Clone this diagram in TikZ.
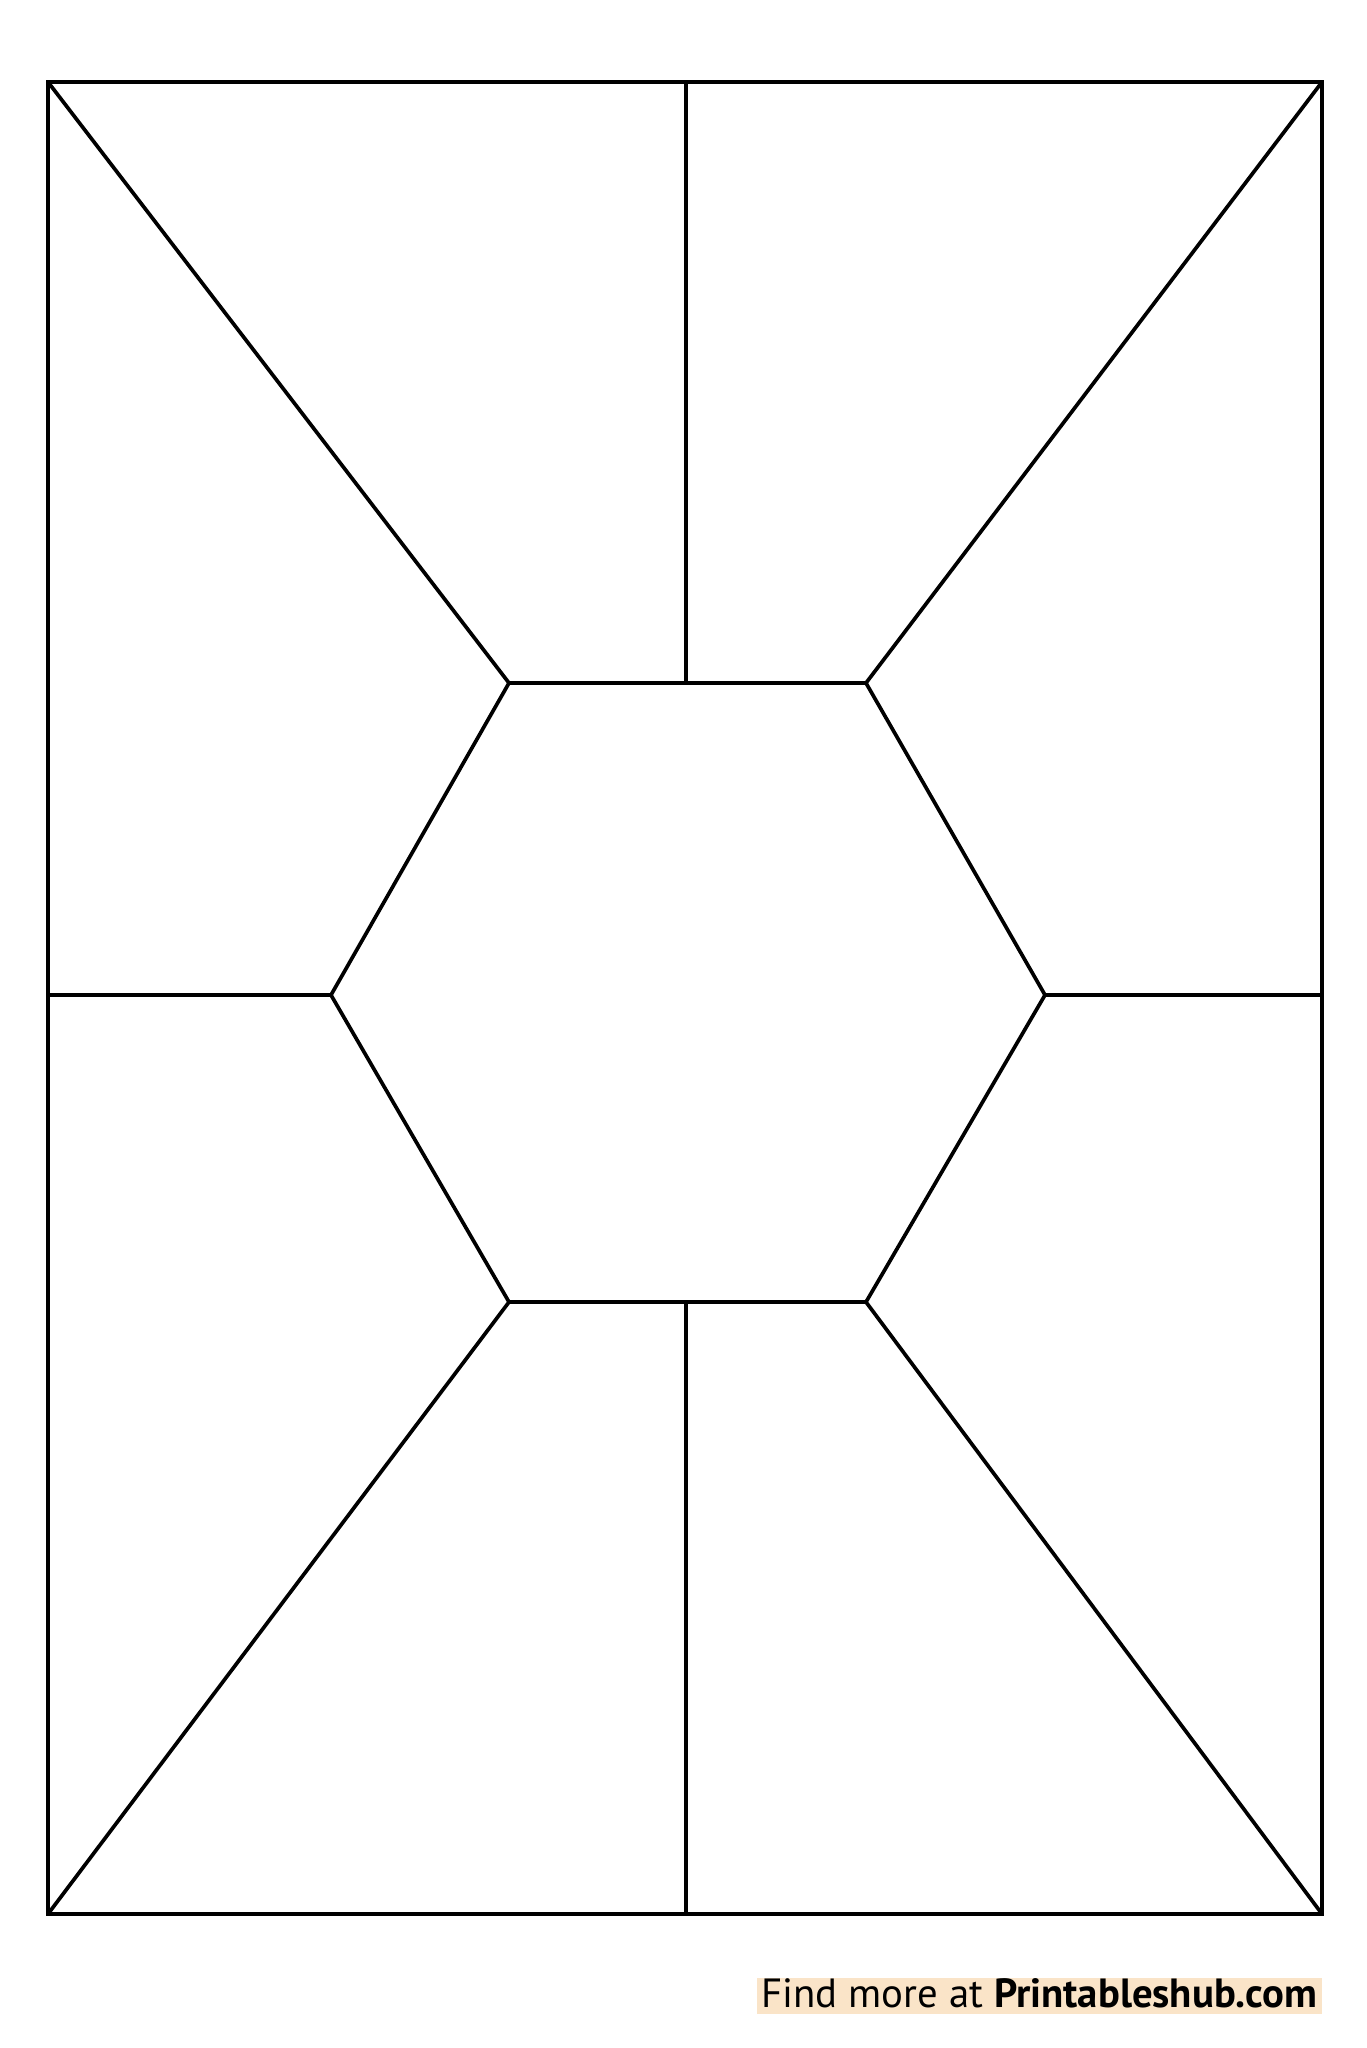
\documentclass[tikz,border=0pt]{standalone}
\usepackage{fontspec}
\setmainfont{PT Sans}
\definecolor{peach}{RGB}{250,228,200}

\begin{document}
\begin{tikzpicture}[x=0.02cm, y=-0.02cm, line width=2.1pt, line join=miter,
    footer/.style={fill=peach, inner xsep=0.1cm, inner ysep=0pt, text height=0.58cm, text depth=0.14cm, font=\fontsize{23.2}{26}\selectfont}]
    \useasboundingbox (0,0) rectangle (1366,2048);
    % outer frame
    \coordinate (tl) at (48,82);
    \coordinate (tr) at (1322,82);
    \coordinate (bl) at (48,1914);
    \coordinate (br) at (1322,1914);
    \coordinate (tm) at (686,82);
    \coordinate (bm) at (686,1914);
    \coordinate (lm) at (48,995);
    \coordinate (rm) at (1322,995);
    % hexagon
    \coordinate (h1) at (509,683);
    \coordinate (h2) at (866,683);
    \coordinate (h3) at (1045,995);
    \coordinate (h4) at (866,1302);
    \coordinate (h5) at (509,1302);
    \coordinate (h6) at (331,995);
    \coordinate (ht) at (686,683);
    \coordinate (hb) at (686,1302);
    \draw (tl) rectangle (br);
    \draw (h1) -- (h2) -- (h3) -- (h4) -- (h5) -- (h6) -- cycle;
    \draw (tl) -- (h1);
    \draw (tr) -- (h2);
    \draw (br) -- (h4);
    \draw (bl) -- (h5);
    \draw (tm) -- (ht);
    \draw (hb) -- (bm);
    \draw (lm) -- (h6);
    \draw (h3) -- (rm);
    % footer
    \node[footer, anchor=base east] (credit) at (1324,2007) {Find more at \textbf{Printableshub.com}};
\end{tikzpicture}
\end{document}
